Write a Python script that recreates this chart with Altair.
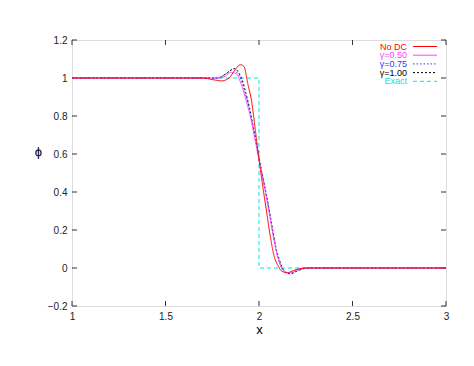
import altair as alt
import pandas as pd

# ---- data ----
nodc_x = [1.0, 1.70, 1.76, 1.80, 1.84, 1.87, 1.90, 1.92, 1.94, 1.96, 1.98, 2.00, 2.02, 2.04, 2.06, 2.08, 2.10, 2.12, 2.15, 2.18, 2.22, 2.26, 3.0]
nodc_y = [1.0, 1.0, 0.99, 0.985, 1.0, 1.04, 1.07, 1.06, 0.97, 0.88, 0.73, 0.57, 0.43, 0.30, 0.17, 0.065, 0.015, -0.015, -0.025, -0.015, -0.003, 0.0, 0.0]

g050_x = [1.0, 1.74, 1.78, 1.82, 1.85, 1.88, 1.90, 1.92, 1.94, 1.96, 1.98, 2.00, 2.02, 2.04, 2.06, 2.08, 2.10, 2.12, 2.14, 2.16, 2.19, 2.22, 2.26, 3.0]
g050_y = [1.0, 1.0, 1.0, 1.01, 1.03, 1.02, 0.98, 0.92, 0.85, 0.77, 0.67, 0.57, 0.47, 0.37, 0.26, 0.15, 0.06, 0.0, -0.02, -0.025, -0.015, -0.005, 0.0, 0.0]

g075_x = [1.0, 1.72, 1.78, 1.82, 1.86, 1.88, 1.90, 1.92, 1.94, 1.96, 1.98, 2.00, 2.02, 2.04, 2.06, 2.08, 2.10, 2.12, 2.14, 2.16, 2.19, 2.22, 2.26, 3.0]
g075_y = [1.0, 1.0, 1.0, 1.02, 1.045, 1.03, 1.0, 0.94, 0.87, 0.78, 0.68, 0.57, 0.48, 0.38, 0.27, 0.15, 0.06, 0.005, -0.02, -0.03, -0.02, -0.007, 0.0, 0.0]

g100_x = [1.0, 1.72, 1.78, 1.82, 1.87, 1.89, 1.91, 1.93, 1.95, 1.97, 1.99, 2.01, 2.03, 2.05, 2.07, 2.09, 2.11, 2.13, 2.15, 2.17, 2.20, 2.23, 2.27, 3.0]
g100_y = [1.0, 1.0, 1.0, 1.02, 1.05, 1.03, 0.99, 0.92, 0.84, 0.74, 0.64, 0.53, 0.43, 0.33, 0.22, 0.11, 0.04, -0.01, -0.028, -0.03, -0.018, -0.006, 0.0, 0.0]

exact_x = [1.0, 2.0, 2.0, 3.0]
exact_y = [1.0, 1.0, 0.0, 0.0]

series_names = ["No DC", "γ=0.50", "γ=0.75", "γ=1.00", "Exact"]
series_colors = ["#ff0000", "#ff44ff", "#3333ff", "#000000", "#00e5e5"]
series_dash = [[1, 0], [1, 0], [1.5, 2], [2, 2], [4, 3]]

x_ticks = [1, 1.5, 2, 2.5, 3]
y_ticks = [-0.2, 0, 0.2, 0.4, 0.6, 0.8, 1.0, 1.2]

W, H = 374, 266
FONT = "Liberation Sans"

xs = alt.Scale(domain=[1, 3], nice=False, zero=False)
ys = alt.Scale(domain=[-0.2, 1.2], nice=False, zero=False)

series_data = [(nodc_x, nodc_y), (g050_x, g050_y), (g075_x, g075_y), (g100_x, g100_y), (exact_x, exact_y)]

layers = []

# axis labels (no ticks, no domain)
base_axes = alt.Chart(pd.DataFrame({"x": [1, 3], "y": [-0.2, 1.2]})).mark_point(opacity=0).encode(
    x=alt.X("x:Q", scale=xs, title="x",
            axis=alt.Axis(values=x_ticks, format="~g", ticks=False, domain=False, grid=False,
                          labelOverlap=False, labelFlush=False,
                          labelPadding=5, labelFontSize=10, labelFont=FONT, labelColor="#222",
                          titleFont=FONT, titleFontSize=13, titleFontWeight="normal", titlePadding=2)),
    y=alt.Y("y:Q", scale=ys, title="ϕ",
            axis=alt.Axis(values=y_ticks, format="~g", ticks=False, domain=False, grid=False,
                          labelOverlap=False, labelFlush=False,
                          labelPadding=5, labelFontSize=10, labelFont=FONT, labelColor="#222",
                          titleFont=FONT, titleFontSize=13, titleFontWeight="normal",
                          titleAngle=0, titleX=-34, titleY=118)),
)
layers.append(base_axes)

# inward ticks
xt = pd.DataFrame({"t": x_ticks})
yt = pd.DataFrame({"t": y_ticks})
tick_col = "#333"
layers.append(alt.Chart(xt).mark_rule(color=tick_col, strokeWidth=1).encode(
    x=alt.X("t:Q", scale=xs, axis=None), y=alt.value(H), y2=alt.value(H - 5)))
layers.append(alt.Chart(xt).mark_rule(color=tick_col, strokeWidth=1).encode(
    x=alt.X("t:Q", scale=xs, axis=None), y=alt.value(0), y2=alt.value(5)))
layers.append(alt.Chart(yt).mark_rule(color=tick_col, strokeWidth=1).encode(
    y=alt.Y("t:Q", scale=ys, axis=None), x=alt.value(0), x2=alt.value(5)))
layers.append(alt.Chart(yt).mark_rule(color=tick_col, strokeWidth=1).encode(
    y=alt.Y("t:Q", scale=ys, axis=None), x=alt.value(W), x2=alt.value(W - 5)))

# series lines
order = [4, 3, 2, 1, 0]
for i in order:
    sx, sy = series_data[i]
    df = pd.DataFrame({"x": sx, "y": sy, "o": list(range(len(sx)))})
    layers.append(alt.Chart(df).mark_line(color=series_colors[i], strokeWidth=1,
                                          strokeDash=series_dash[i],
                                          interpolate="monotone" if i != 4 else "linear",
                                          clip=True).encode(
        x=alt.X("x:Q", scale=xs, axis=None), y=alt.Y("y:Q", scale=ys, axis=None), order="o:Q"))

# manual legend
row_y = [6.5, 15.2, 23.9, 32.6, 41.3]
for i, name in enumerate(series_names):
    ld = pd.DataFrame({"label": [name]})
    layers.append(alt.Chart(ld).mark_text(align="right", baseline="middle", font=FONT, fontSize=9,
                                          color=series_colors[i]).encode(
        text="label:N", x=alt.value(335), y=alt.value(row_y[i])))
    layers.append(alt.Chart(ld).mark_rule(color=series_colors[i], strokeWidth=1,
                                          strokeDash=series_dash[i]).encode(
        x=alt.value(341), x2=alt.value(365), y=alt.value(row_y[i])))

chart = alt.layer(*layers).resolve_axis(x="independent", y="independent").properties(
    width=W, height=H,
    autosize=alt.AutoSizeParams(type="none"),
    padding={"left": 64, "top": 32, "right": 20, "bottom": 40},
).configure_view(stroke="#333", strokeWidth=1).configure(background="white")

chart.save("out.html", embed_options={"renderer": "svg", "actions": False})
